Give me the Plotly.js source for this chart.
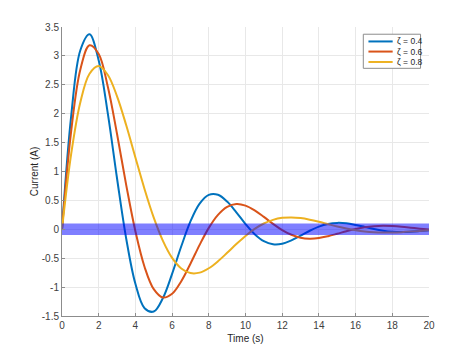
<!DOCTYPE html>
<html>
<head>
<meta charset="utf-8">
<script src="https://cdn.plot.ly/plotly-3.0.1.min.js"></script>
<style>html,body{margin:0;padding:0;background:#fff;}#chart{width:474px;height:355px;}</style>
</head>
<body>
<div id="chart"></div>
<script>
// Time samples (s)
const time = [0,0.5,1,1.5,2,2.5,3,3.5,4,4.5,5,5.5,6,6.5,7,7.5,8,8.5,9,9.5,10,
  10.5,11,11.5,12,12.5,13,13.5,14,14.5,15,15.5,16,16.5,17,17.5,18,18.5,19,19.5,20];
// Current (A)
const zeta04 = [0,1.959,3.098,3.374,2.922,1.996,0.879,-0.163,-0.943,-1.365,-1.423,-1.189,-0.771,-0.294,0.136,0.444,0.596,0.597,0.480,0.294,0.091,
  -0.084,-0.205,-0.258,-0.249,-0.192,-0.111,-0.025,0.047,0.093,0.111,0.103,0.076,0.041,0.005,-0.024,-0.042,-0.047,-0.043,-0.030,-0.015];
const zeta06 = [0,1.698,2.766,3.183,3.032,2.461,1.648,0.765,-0.034,-0.652,-1.036,-1.180,-1.115,-0.898,-0.595,-0.269,0.025,0.250,0.388,0.437,0.410,
  0.327,0.214,0.094,-0.014,-0.095,-0.146,-0.162,-0.151,-0.119,-0.077,-0.033,0.007,0.037,0.054,0.060,0.055,0.044,0.028,0.011,-0.003];
const zeta08 = [0,1.304,2.199,2.692,2.826,2.670,2.300,1.799,1.243,0.694,0.202,-0.199,-0.494,-0.677,-0.757,-0.750,-0.674,-0.553,-0.407,-0.256,-0.115,
  0.006,0.100,0.163,0.198,0.206,0.194,0.166,0.129,0.088,0.048,0.013,-0.016,-0.037,-0.050,-0.055,-0.054,-0.049,-0.040,-0.029,-0.018];
const seriesNames = ['ζ = 0.4','ζ = 0.6','ζ = 0.8'];
// Tolerance band
const bandX = [0,20,20,0,0];
const bandY = [-0.1,-0.1,0.1,0.1,-0.1];
// Ticks
const xTicks = [0,2,4,6,8,10,12,14,16,18,20];
const yTicks = [-1.5,-1,-0.5,0,0.5,1,1.5,2,2.5,3,3.5];
const yTickText = ['-1.5','-1','-0.5','0','0.5','1','1.5','2','2.5','3','3.5'];

const colors = ['#0072BD','#D95319','#EDB120'];
const ys = [zeta04, zeta06, zeta08];
const traces = ys.map((y,i)=>({
  x: time, y: y, type:'scatter', mode:'lines', name: seriesNames[i],
  line:{color:colors[i], width:2, shape:'spline', smoothing:1}
}));
traces.push({x:bandX, y:bandY, type:'scatter', mode:'lines', fill:'toself',
  fillcolor:'rgba(0,0,255,0.5)', line:{width:0, color:'rgba(0,0,0,0)'}, showlegend:false, hoverinfo:'skip'});

const fam = '"Liberation Sans", Arial, sans-serif';
const font = {family:fam, size:10, color:'#404040'};

// Compact MATLAB-style legend box (paper coordinates)
const shapes = [{type:'rect', xref:'paper', yref:'paper', x0:0.821, x1:0.977, y0:0.857, y1:0.975,
  fillcolor:'#fff', line:{color:'#8c8c8c', width:1}, layer:'above'}];
const legY = [0.950, 0.915, 0.879];
const annotations = [];
seriesNames.forEach((n,i)=>{
  shapes.push({type:'line', xref:'paper', yref:'paper', x0:0.835, x1:0.901, y0:legY[i], y1:legY[i],
    line:{color:colors[i], width:2}, layer:'above'});
  annotations.push({xref:'paper', yref:'paper', x:0.908, y:legY[i], xanchor:'left', yanchor:'middle',
    text:n, showarrow:false, font:{family:fam, size:8.5, color:'#262626'}});
});

const layout = {
  width:474, height:355,
  margin:{l:62, r:45, t:27, b:39},
  paper_bgcolor:'#fff', plot_bgcolor:'#fff',
  font: font,
  showlegend:false,
  shapes: shapes,
  annotations: annotations,
  xaxis:{range:[0,20], tickvals:xTicks, ticks:'inside', ticklen:3, tickcolor:'#8c8c8c',
    showline:true, linecolor:'#8c8c8c', linewidth:1, mirror:false,
    showgrid:true, gridcolor:'#e8e8e8', zeroline:false,
    title:{text:'Time (s)', font:{family:fam, size:10, color:'#262626'}, standoff:4}},
  yaxis:{range:[-1.5,3.5], tickvals:yTicks, ticktext:yTickText, ticks:'inside', ticklen:3, tickcolor:'#8c8c8c',
    showline:true, linecolor:'#8c8c8c', linewidth:1, mirror:false,
    showgrid:true, gridcolor:'#e8e8e8', zeroline:false,
    title:{text:'Current (A)', font:{family:fam, size:10, color:'#262626'}, standoff:1}}
};
Plotly.newPlot('chart', traces, layout, {displayModeBar:false, staticPlot:true});
</script>
</body>
</html>
